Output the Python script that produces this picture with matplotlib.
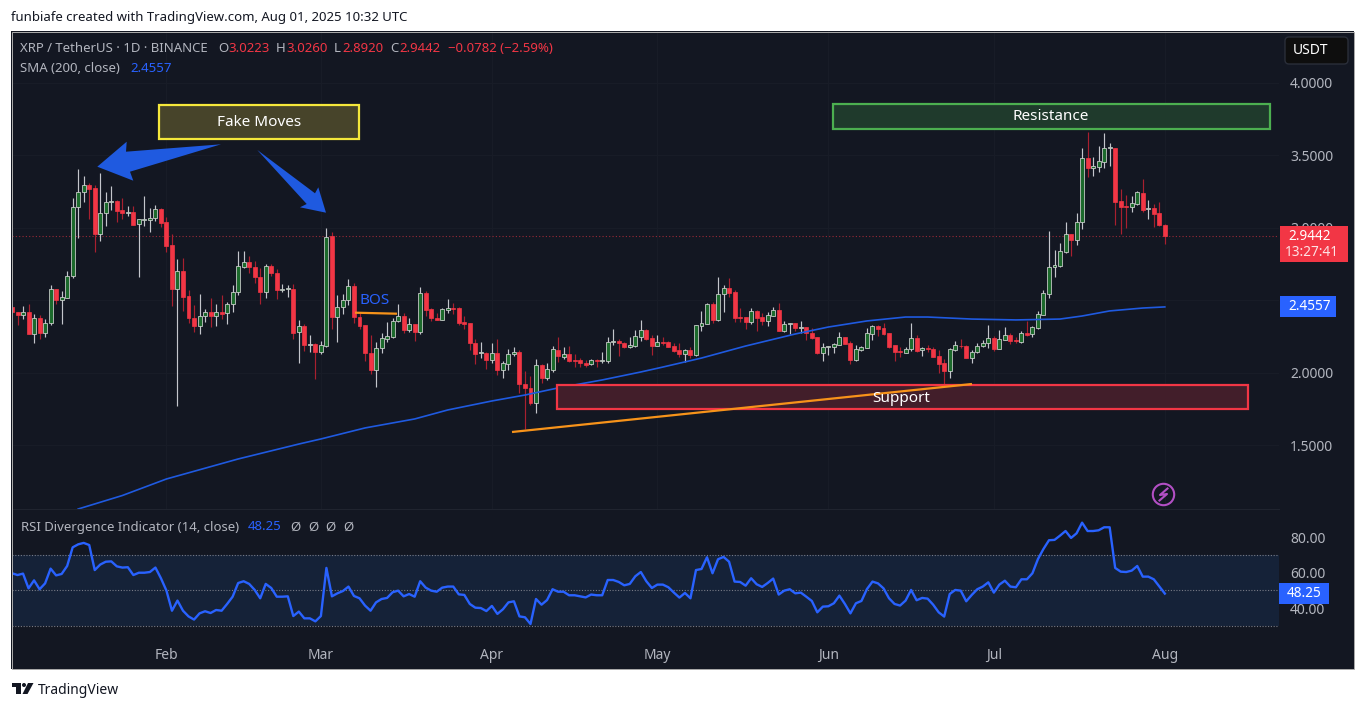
import matplotlib
matplotlib.use("Agg")
import matplotlib.pyplot as plt
from matplotlib.patches import Rectangle, Polygon, Circle, FancyBboxPatch

# daily candles, Jan 4 - Aug 1 2025
opens = [2.453,2.423,2.400,2.423,2.269,2.377,2.274,2.343,2.582,2.506,
    2.520,2.669,3.147,3.246,3.294,3.274,2.956,3.106,3.177,3.186,
    3.124,3.106,3.113,3.025,3.058,3.058,3.067,3.131,3.039,2.881,
    2.579,2.701,2.531,2.382,2.326,2.395,2.423,2.395,2.423,2.412,
    2.474,2.556,2.733,2.766,2.733,2.664,2.561,2.738,2.690,2.572,
    2.579,2.582,2.281,2.324,2.193,2.198,2.143,2.189,2.945,2.388,
    2.453,2.501,2.602,2.386,2.329,2.140,2.020,2.170,2.237,2.250,
    2.358,2.391,2.294,2.340,2.285,2.549,2.439,2.381,2.368,2.437,
    2.450,2.448,2.349,2.345,2.207,2.135,2.138,2.089,2.140,2.020,
    2.064,2.128,2.145,1.924,1.899,1.795,2.057,1.963,2.023,2.161,
    2.112,2.128,2.089,2.087,2.069,2.060,2.087,2.080,2.085,2.216,
    2.218,2.207,2.181,2.188,2.250,2.296,2.241,2.188,2.216,2.216,
    2.186,2.156,2.128,2.158,2.124,2.326,2.340,2.473,2.365,2.542,
    2.586,2.556,2.384,2.384,2.354,2.427,2.384,2.356,2.395,2.434,
    2.292,2.335,2.347,2.310,2.319,2.276,2.248,2.135,2.177,2.179,
    2.195,2.246,2.204,2.089,2.158,2.174,2.271,2.326,2.310,2.273,
    2.193,2.151,2.140,2.163,2.239,2.158,2.172,2.165,2.117,2.069,
    2.016,2.158,2.188,2.186,2.106,2.143,2.184,2.205,2.241,2.168,
    2.230,2.262,2.228,2.214,2.274,2.267,2.308,2.402,2.547,2.731,
    2.740,2.835,2.959,2.920,3.041,3.485,3.414,3.423,3.455,3.550,
    3.554,3.186,3.154,3.147,3.166,3.244,3.129,3.136,3.101,3.0223]
highs = [2.458,2.423,2.462,2.474,2.405,2.398,2.372,2.607,2.582,2.566,
    2.704,3.205,3.407,3.359,3.308,3.297,3.377,3.248,3.292,3.193,
    3.205,3.152,3.152,3.064,3.221,3.136,3.159,3.136,3.074,2.959,
    2.786,2.791,2.572,2.469,2.545,2.441,2.515,2.474,2.536,2.492,
    2.607,2.841,2.841,2.807,2.772,2.722,2.749,2.749,2.715,2.612,
    2.607,2.614,2.366,2.336,2.262,2.205,2.223,3.002,2.970,2.538,
    2.545,2.648,2.623,2.416,2.329,2.262,2.216,2.273,2.351,2.377,
    2.476,2.411,2.381,2.340,2.591,2.565,2.446,2.416,2.448,2.508,
    2.480,2.453,2.393,2.345,2.232,2.216,2.142,2.204,2.232,2.085,
    2.165,2.177,2.158,2.014,1.979,2.094,2.062,2.066,2.186,2.250,
    2.181,2.186,2.128,2.101,2.089,2.096,2.094,2.142,2.250,2.303,
    2.234,2.211,2.250,2.296,2.365,2.301,2.262,2.262,2.246,2.223,
    2.209,2.204,2.163,2.177,2.331,2.430,2.480,2.492,2.659,2.607,
    2.653,2.572,2.446,2.388,2.446,2.434,2.416,2.423,2.457,2.480,
    2.361,2.344,2.347,2.358,2.319,2.312,2.250,2.204,2.186,2.204,
    2.280,2.250,2.220,2.193,2.186,2.308,2.331,2.331,2.342,2.273,
    2.193,2.181,2.181,2.342,2.262,2.177,2.193,2.181,2.158,2.094,
    2.170,2.223,2.232,2.193,2.159,2.205,2.228,2.331,2.255,2.297,
    2.315,2.274,2.246,2.292,2.359,2.324,2.430,2.573,2.982,2.848,
    2.894,3.039,2.959,3.101,3.554,3.660,3.492,3.566,3.653,3.584,
    3.554,3.269,3.228,3.223,3.258,3.338,3.193,3.166,3.182,3.026]
lows = [2.416,2.331,2.372,2.269,2.205,2.234,2.251,2.331,2.474,2.336,
    2.515,2.653,2.929,3.182,3.062,2.837,2.913,3.016,3.124,3.044,
    3.060,3.083,3.021,2.664,3.014,2.975,3.051,3.009,2.837,2.464,
    1.775,2.428,2.343,2.285,2.269,2.354,2.315,2.326,2.372,2.336,
    2.423,2.538,2.722,2.692,2.618,2.474,2.515,2.671,2.508,2.556,
    2.526,2.234,2.067,2.152,2.147,1.956,2.129,2.182,2.301,2.216,
    2.407,2.469,2.347,2.303,2.085,1.993,1.905,2.135,2.216,2.239,
    2.354,2.273,2.285,2.223,2.266,2.393,2.358,2.365,2.365,2.411,
    2.407,2.331,2.306,2.158,2.062,2.101,2.025,2.066,1.986,1.963,
    2.020,2.117,1.859,1.614,1.779,1.726,1.928,1.951,2.004,2.078,
    2.096,2.078,2.039,2.043,2.043,2.055,2.043,2.066,2.066,2.193,
    2.119,2.170,2.174,2.181,2.223,2.227,2.124,2.186,2.193,2.177,
    2.147,2.108,2.078,2.105,2.119,2.289,2.338,2.342,2.358,2.423,
    2.521,2.354,2.354,2.303,2.338,2.289,2.331,2.324,2.393,2.289,
    2.285,2.269,2.292,2.273,2.227,2.236,2.131,2.085,2.124,2.135,
    2.190,2.197,2.062,2.085,2.151,2.170,2.227,2.255,2.264,2.172,
    2.085,2.112,2.135,2.154,2.147,2.117,2.147,2.108,2.002,1.924,
    1.963,2.154,2.170,2.101,2.067,2.136,2.177,2.170,2.154,2.163,
    2.228,2.200,2.205,2.209,2.258,2.251,2.301,2.400,2.515,2.664,
    2.733,2.825,2.809,2.883,2.991,3.350,3.361,3.389,3.412,3.430,
    3.021,2.959,3.002,3.113,3.159,3.113,3.060,3.009,3.016,2.892]
closes = [2.423,2.400,2.423,2.269,2.377,2.274,2.343,2.582,2.504,2.522,
    2.671,3.147,3.246,3.294,3.269,2.959,3.106,3.179,3.184,3.117,
    3.106,3.113,3.023,3.060,3.062,3.067,3.131,3.037,2.878,2.579,
    2.701,2.526,2.377,2.326,2.395,2.423,2.395,2.423,2.409,2.474,
    2.556,2.738,2.763,2.731,2.662,2.561,2.738,2.687,2.572,2.579,
    2.584,2.278,2.322,2.195,2.200,2.143,2.191,2.940,2.389,2.453,
    2.501,2.602,2.384,2.324,2.138,2.020,2.170,2.239,2.253,2.361,
    2.391,2.294,2.340,2.285,2.549,2.437,2.377,2.365,2.439,2.448,
    2.443,2.345,2.340,2.204,2.131,2.142,2.089,2.140,2.020,2.066,
    2.128,2.145,1.922,1.894,1.795,2.055,1.963,2.025,2.163,2.117,
    2.128,2.085,2.085,2.066,2.055,2.087,2.080,2.089,2.211,2.223,
    2.204,2.181,2.191,2.253,2.296,2.234,2.188,2.213,2.209,2.181,
    2.151,2.128,2.156,2.124,2.331,2.344,2.473,2.365,2.544,2.586,
    2.554,2.381,2.377,2.354,2.430,2.377,2.356,2.400,2.434,2.292,
    2.335,2.344,2.308,2.317,2.276,2.241,2.135,2.177,2.184,2.197,
    2.246,2.202,2.089,2.163,2.177,2.273,2.324,2.305,2.269,2.181,
    2.147,2.144,2.165,2.239,2.154,2.170,2.167,2.112,2.062,2.016,
    2.163,2.190,2.184,2.105,2.145,2.186,2.209,2.239,2.168,2.235,
    2.262,2.221,2.221,2.274,2.264,2.317,2.409,2.550,2.733,2.743,
    2.839,2.959,2.920,3.044,3.485,3.414,3.425,3.460,3.552,3.556,
    3.182,3.145,3.147,3.170,3.246,3.124,3.136,3.097,3.021,2.9442]

# SMA 200, read at a few days along the line
sma_days = [12,20,28,41,52,56,64,73,79,87,93,99,107,114,118,125,133,142,148,155,
    162,166,170,174,182,190,194,199,205,209]
sma_vals = [1.062,1.155,1.269,1.407,1.510,1.545,1.621,1.683,1.745,1.807,1.848,1.897,
    1.952,2.007,2.041,2.103,2.186,2.269,2.317,2.359,2.386,2.386,2.379,2.372,
    2.366,2.372,2.393,2.428,2.448,2.4557]

rsi = [59.7,58.7,59.5,51.2,55.7,50.7,54.0,62.3,58.5,59.3,
    63.8,74.3,76.0,76.8,75.6,61.5,64.6,66.2,66.4,63.6,
    62.9,63.1,58.7,60.0,60.0,60.4,62.9,56.9,49.9,38.6,
    44.3,38.6,35.4,33.6,37.1,38.3,37.3,39.0,38.6,42.4,
    46.5,54.2,55.2,53.7,50.3,45.6,53.7,51.4,46.5,46.5,
    46.7,35.6,38.1,34.3,34.3,32.6,35.6,62.7,46.7,48.4,
    49.7,52.2,46.9,45.6,41.5,38.6,43.3,45.2,45.8,49.0,
    49.9,46.7,48.0,46.5,55.2,51.6,49.9,49.3,51.6,52.2,
    52.2,47.8,47.5,42.4,40.3,40.1,38.4,41.3,36.8,39.4,
    43.3,43.9,35.4,34.9,31.1,45.2,42.0,44.6,50.7,49.3,
    49.3,47.3,47.3,46.7,46.1,47.7,47.3,47.3,55.9,55.9,
    54.8,52.9,53.7,58.0,60.4,55.2,51.4,53.3,53.3,51.8,
    48.8,46.0,48.6,45.6,61.5,62.1,68.7,59.7,67.6,68.9,
    66.2,55.0,54.8,52.7,56.9,53.5,52.0,54.2,56.7,47.7,
    49.9,50.7,48.4,48.8,46.5,44.1,37.7,40.9,41.1,42.8,
    47.1,42.4,37.1,42.8,44.1,50.8,55.0,54.0,51.2,45.6,
    42.4,41.5,44.3,50.3,44.5,45.8,45.4,42.0,37.7,35.3,
    48.0,50.3,49.9,43.9,47.5,50.7,52.2,54.6,48.8,53.3,
    55.5,52.2,51.8,56.3,56.3,59.7,67.7,73.4,78.3,78.5,
    80.9,83.5,79.6,82.2,88.2,83.5,83.5,83.9,85.6,85.6,
    62.7,60.6,60.4,61.2,63.8,57.8,57.8,56.3,52.3,48.25]

month_days = [28,56,87,117,148,178,209]
month_labels = ["Feb","Mar","Apr","May","Jun","Jul","Aug"]
price_ticks = [1.5,2.0,2.5,3.0,3.5,4.0]
rsi_ticks = [40,60,80]

W, H = 1366, 709
BG = "#131722"
GRID = "#181c27"
GREY = "#b2b5be"
RED = "#f23645"
BLUE = "#2962ff"
plt.rcParams['font.family'] = ['Noto Sans', 'DejaVu Sans']


def px_box(l, t, r, b):
    return [l / W, 1 - b / H, (r - l) / W, (b - t) / H]


fig = plt.figure(figsize=(W / 100, H / 100), dpi=100, facecolor="white")

# dark panel behind everything, in pixel coords
under = fig.add_axes([0, 0, 1, 1], zorder=0)
under.set_xlim(0, W)
under.set_ylim(H, 0)
under.axis("off")
under.add_patch(Rectangle((11, 31), 1343, 638, fc=BG, ec="none"))

# price pane
ax = fig.add_axes(px_box(12, 31, 1279, 509), zorder=1)
ax.set_facecolor(BG)
ax.set_xlim(0, 229.7)
ax.set_ylim(1.062, 4.3586)
for s in ax.spines.values():
    s.set_visible(False)
ax.yaxis.tick_right()
ax.set_yticks(price_ticks)
ax.set_yticklabels([f"{p:.4f}" for p in price_ticks], color=GREY, fontsize=10)
ax.tick_params(axis="y", length=0, pad=8)
ax.tick_params(axis="x", length=0, labelbottom=False)
ax.set_xticks(month_days)
ax.grid(True, color=GRID, lw=0.8)
ax.set_axisbelow(True)

ax.axhline(closes[-1], color=RED, lw=0.8, ls=(0, (1, 2)), alpha=0.6, zorder=1.5)

for i in range(len(opens)):
    up = closes[i] >= opens[i]
    wick = "#c4c6cc" if up else "#a8202f"
    ax.vlines(i, lows[i], highs[i], color=wick, lw=0.85, zorder=2)
    bottom = min(opens[i], closes[i])
    height = abs(closes[i] - opens[i])
    if up:
        ax.bar(i, height, bottom=bottom, width=0.72, color="#1c6a2c", edgecolor="#d4d4d4", lw=0.55, zorder=3)
    else:
        ax.bar(i, height, bottom=bottom, width=0.72, color=RED, edgecolor=RED, lw=0.5, zorder=3)

ax.plot(sma_days, sma_vals, color="#1f5ae0", lw=1.2, zorder=4)

# rsi pane
ax2 = fig.add_axes(px_box(12, 509, 1279, 640), zorder=1)
ax2.set_facecolor(BG)
ax2.set_xlim(0, 229.7)
ax2.set_ylim(22.1, 95.9)
for s in ax2.spines.values():
    s.set_visible(False)
ax2.spines["top"].set_visible(True)
ax2.spines["top"].set_color("#20242f")
ax2.yaxis.tick_right()
ax2.set_yticks(rsi_ticks)
ax2.set_yticklabels([f"{v:.2f}" for v in rsi_ticks], color=GREY, fontsize=10)
ax2.set_xticks(month_days)
ax2.set_xticklabels(month_labels, color=GREY, fontsize=10)
ax2.tick_params(axis="both", length=0)
ax2.tick_params(axis="y", pad=8)
ax2.tick_params(axis="x", pad=6)
ax2.axhspan(30, 70, color="#152238", lw=0, zorder=1)
for lev in [30, 50, 70]:
    ax2.axhline(lev, color="#787b86", lw=0.8, ls=(0, (1, 1.5)), zorder=2)
ax2.plot(range(len(rsi)), rsi, color=BLUE, lw=1.7, zorder=3)

# overlay: drawings, labels, header
ov = fig.add_axes([0, 0, 1, 1], zorder=5)
ov.set_xlim(0, W)
ov.set_ylim(H, 0)
ov.axis("off")
ov.patch.set_alpha(0)

ov.add_patch(Rectangle((11.5, 31.5), 1342.5, 637, fc="none", ec="#a8a8a8", lw=0.72))

ov.add_patch(Rectangle((159, 105), 200, 34, fc="#47442a", ec="#f5e83b", lw=1.6))
ov.text(259, 123, "Fake Moves", color="white", fontsize=11, ha="center", va="center")
ov.add_patch(Polygon([(97.3, 166.7), (126.7, 141.7), (126, 151.7), (221, 144.3), (130, 171.7), (133.3, 180.7)],
                     fc="#1f5ae0", ec="none"))
ov.add_patch(Polygon([(257.3, 150), (315, 193.3), (318.3, 187.3), (326, 212.7), (300, 207.3), (306.7, 204)],
                     fc="#1f5ae0", ec="none"))

ov.add_patch(Rectangle((833, 104), 437, 25, fc="#1f3a2c", ec="#4caf50", lw=1.6))
ov.text(1051, 117, "Resistance", color="white", fontsize=11, ha="center", va="center")

ov.add_patch(Rectangle((557, 385), 691, 24, fc="#421e2a", ec=RED, lw=1.6))
ov.plot([512, 972], [432, 384], color="#f7931a", lw=1.6, solid_capstyle="butt")
ov.text(901, 398, "Support", color="white", fontsize=11, ha="center", va="center")

ov.plot([355, 397], [312.7, 313.7], color="#f7931a", lw=1.6, solid_capstyle="butt")
ov.text(375, 301, "BOS", color=BLUE, fontsize=11, ha="center", va="center")

# lightning icon
ov.add_patch(Circle((1163.5, 494.5), 10.7, fc="none", ec="#b24fc4", lw=1.5))
ov.plot([1167.5, 1160, 1167, 1159.5], [488.5, 495, 494, 500.5], color="#b24fc4", lw=1.5)

# price axis labels
ov.add_patch(FancyBboxPatch((1285, 37), 63, 27, boxstyle="round,pad=0,rounding_size=4", fc="#0e0e0e", ec="#2a2e39", lw=1))
ov.text(1310, 50.5, "USDT", color="white", fontsize=10, ha="center", va="center")
ov.add_patch(Rectangle((1280, 226), 68, 36, fc=RED, ec="none"))
ov.text(1310, 236, "2.9442", color="white", fontsize=9.8, ha="center", va="center", fontweight="bold")
ov.text(1312, 252, "13:27:41", color="#fde3e5", fontsize=9.8, ha="center", va="center")
ov.add_patch(Rectangle((1280, 296), 56, 21, fc=BLUE, ec="none"))
ov.text(1310, 307, "2.4557", color="white", fontsize=9.8, ha="center", va="center", fontweight="bold")
ov.add_patch(Rectangle((1279, 583), 50, 21, fc=BLUE, ec="none"))
ov.text(1304, 593.5, "48.25", color="white", fontsize=9.8, ha="center", va="center", fontweight="bold")

# header and legends
ov.text(11, 17, "funbiafe created with TradingView.com, Aug 01, 2025 10:32 UTC", color="#131722", fontsize=9.5, va="center")
ov.text(20, 48, "XRP / TetherUS · 1D · BINANCE", color=GREY, fontsize=9.5, va="center")
legend_row = [(218, "O", GREY), (228, "3.0223", RED), (276, "H", GREY), (286, "3.0260", RED),
              (334, "L", GREY), (342.5, "2.8920", RED), (390, "C", GREY), (399, "2.9442", RED),
              (448, "−0.0782 (−2.59%)", RED)]
for x, s, c in legend_row:
    ov.text(x, 48, s, color=c, fontsize=9.5, va="center")
ov.text(20, 68, "SMA (200, close)", color=GREY, fontsize=9.5, va="center")
ov.text(130, 68, "2.4557", color="#2962ff", fontsize=9.5, va="center")
ov.text(21, 527, "RSI Divergence Indicator (14, close)", color=GREY, fontsize=9.5, va="center")
ov.text(248, 527, "48.25", color="#2962ff", fontsize=9.5, va="center")
for x in [290, 308, 325, 343]:
    ov.text(x, 527, "Ø", color=GREY, fontsize=9.5, va="center")

# footer logo
ov.add_patch(Polygon([(11.7, 683), (20.7, 683), (20.7, 694), (16, 694), (16, 687), (11.7, 687)], fc="#131722", ec="none"))
ov.add_patch(Circle((24, 685), 2, fc="#131722", ec="none"))
ov.add_patch(Polygon([(28, 683), (33.5, 683), (27.5, 694), (22.5, 694)], fc="#131722", ec="none"))
ov.text(38, 690, "TradingView", color="#131722", fontsize=10, va="center")

fig.savefig("out.png", dpi=100)
